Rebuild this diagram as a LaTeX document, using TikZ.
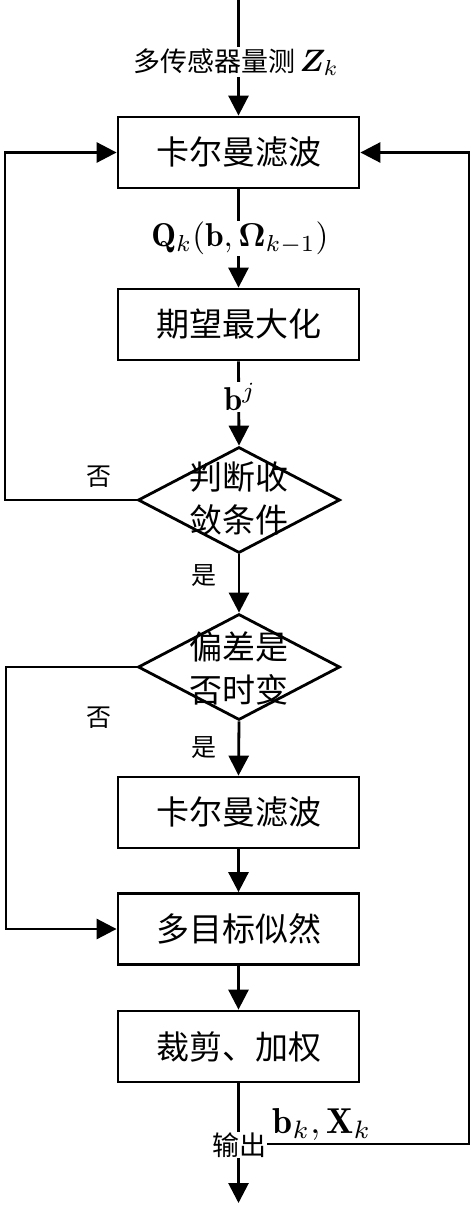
\documentclass[tikz,border=0pt]{standalone}
\usepackage{graphicx}
\usepackage{amsmath,bm}
\usepackage{fontspec}
\newfontfamily\cjk{Noto Sans CJK SC}
\usetikzlibrary{arrows.meta,shapes.geometric}
\newcommand{\bigmath}[2]{\scalebox{#1}{\fontsize{10}{12}\selectfont$#2$}}
\begin{document}
\begin{tikzpicture}[x=1pt,y=-1pt,line width=2.8pt,
  >={Triangle[length=20pt,width=20pt]},
  box/.style={draw,rectangle,minimum width=241pt,minimum height=71pt,inner sep=0pt,
    font=\cjk\fontsize{33}{40}\selectfont},
  dia/.style={draw,diamond,minimum width=202pt,minimum height=106pt,inner sep=0pt},
  diatext/.style={align=center,inner sep=0pt,font=\cjk\fontsize{33}{43}\selectfont},
  lbl/.style={fill=white,inner sep=1pt,font=\cjk\fontsize{27}{32}\selectfont},
  yn/.style={inner sep=0pt,font=\cjk\fontsize{25}{30}\selectfont},
  mlbl/.style={fill=white,inner sep=1pt}]
\useasboundingbox (0,0) rectangle (474,1209);
\fill[white] (0,0) rectangle (474,1209);
% boxes
\node[box] (k1) at (238.5,152.5) {卡尔曼滤波};
\node[box] (em) at (238.5,324.5) {期望最大化};
\node[dia] (d1) at (239,500) {};
\node[dia] (d2) at (239,667) {};
\node[box] (k2) at (238.5,812.5) {卡尔曼滤波};
\node[box] (ml) at (238.5,929) {多目标似然};
\node[box] (cw) at (238.5,1046.5) {裁剪、加权};
% coordinates
\coordinate (top) at (238.5,0);
\coordinate (L1) at (5,500);
\coordinate (L2) at (6,667);
\coordinate (oc) at (238.5,1144);
\coordinate (R) at (469,1144);
\coordinate (end) at (238.5,1203);
% connectors
\draw[->] (top) -- (k1.north);
\draw[->] (k1.south) -- (em.north);
\draw[->] (em.south) -- (d1.north);
\draw[->] (d1.south) -- (d2.north);
\draw[->] (d2.south) -- (k2.north);
\draw[->] (k2.south) -- (ml.north);
\draw[->] (ml.south) -- (cw.north);
\draw[->] (cw.south) -- (end);
\draw[->] (d1.west) -- (L1) |- (k1.west);
\draw[->] (d2.west) -- (L2) |- (ml.west);
\draw[->] (oc) -- (R) |- (k1.east);
% texts
\node[diatext] (t1) at (239,498.5) {判断收\\敛条件};
\node[diatext] (t2) at (239,668) {偏差是\\否时变};
\node[lbl] (zk) at (236,62) {多传感器量测\,\bigmath{3.1}{\bm{Z}_{k}}};
\node[mlbl] (q) at (240,238) {\bigmath{3.3}{\mathbf{Q}_{k}(\mathbf{b},\bm{\Omega}_{k-1})}};
\node[mlbl] (bj) at (240,397) {\bigmath{3.3}{\mathbf{b}^{j}}};
\node[yn] (n1) at (99,477) {否};
\node[yn] (y1) at (204,576) {是};
\node[yn] (n2) at (99,718) {否};
\node[yn] (y2) at (204,748) {是};
\node[lbl] (out) at (239,1145) {输出};
\node[inner sep=0pt] (bx) at (322,1124) {\bigmath{3.6}{\mathbf{b}_{k},\mathbf{X}_{k}}};
\end{tikzpicture}
\end{document}
